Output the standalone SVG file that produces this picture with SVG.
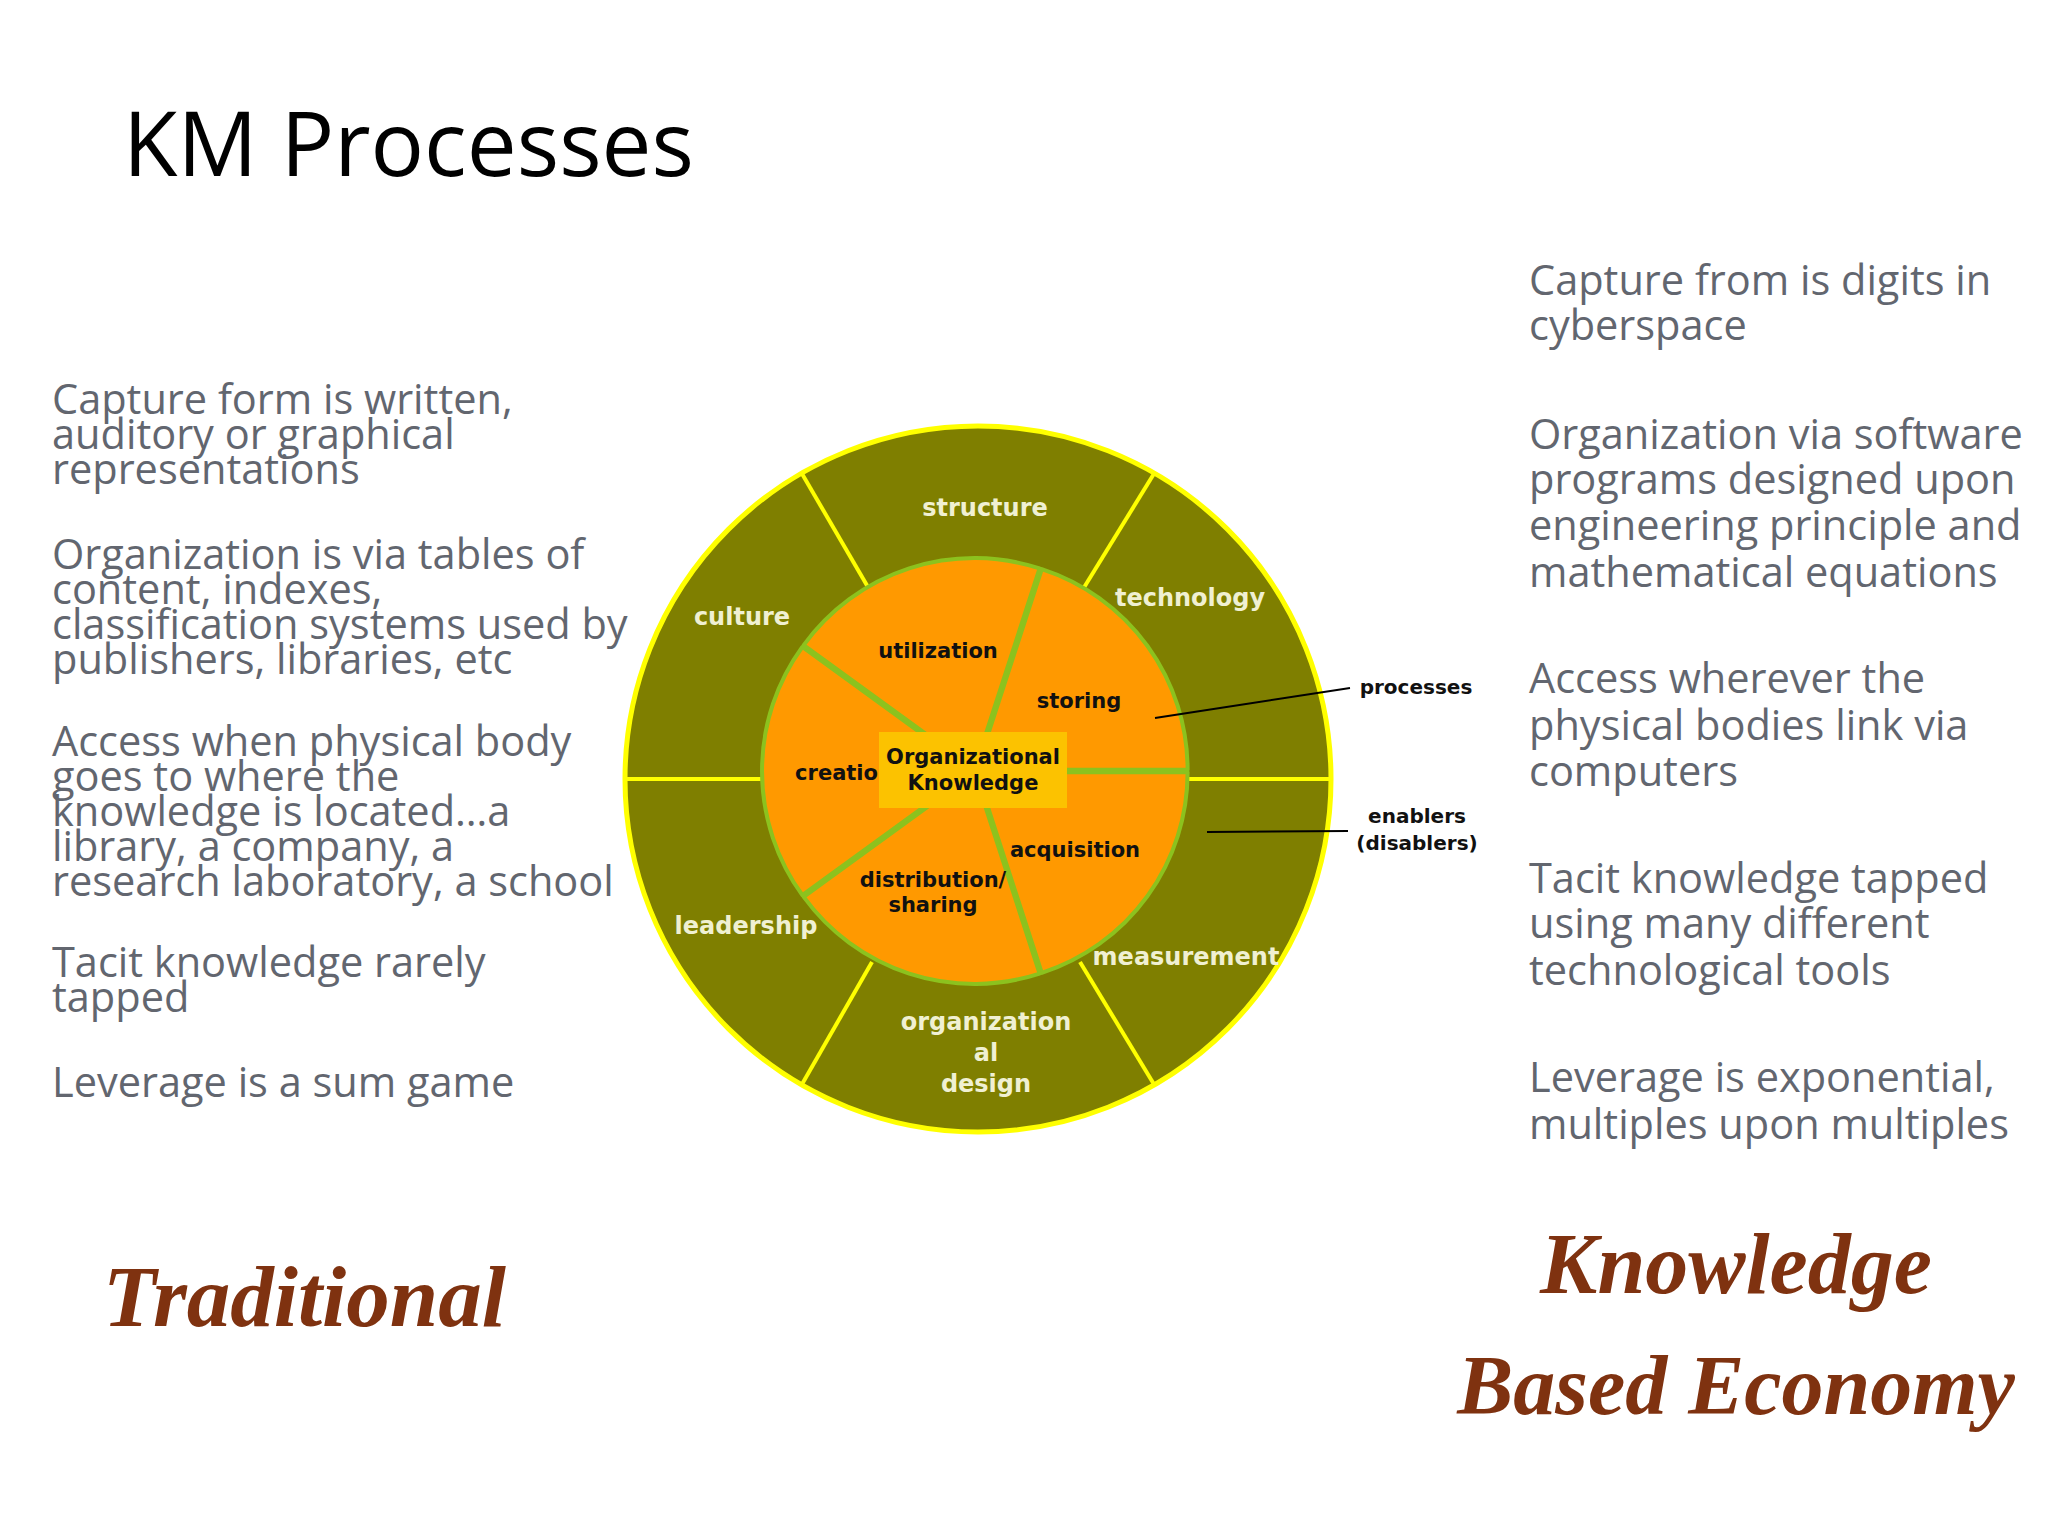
<svg xmlns="http://www.w3.org/2000/svg" width="2048" height="1536" viewBox="0 0 2048 1536">
<style>
.title{font-family:"Open Sans","Liberation Sans",sans-serif;font-size:89px;fill:#000}
.body{font-family:"Open Sans","Liberation Sans",sans-serif;font-size:41.5px;fill:#62666f}
.big{font-family:"Liberation Serif","DejaVu Serif",serif;font-weight:bold;font-style:italic;font-size:85px;fill:#7f3210}
.outer{font-family:"DejaVu Sans",sans-serif;font-weight:bold;font-size:24px;fill:#f0f0d2;text-anchor:middle}
.inner{font-family:"DejaVu Sans",sans-serif;font-weight:bold;font-size:21px;fill:#111;text-anchor:middle}
.innerend{font-family:"DejaVu Sans",sans-serif;font-weight:bold;font-size:21px;fill:#111;text-anchor:end}
.side{font-family:"DejaVu Sans",sans-serif;font-weight:bold;font-size:20px;fill:#111;text-anchor:middle}
.div{stroke:#ffff00;stroke-width:4}
.slice{fill:#ff9900;stroke:#8cc21e;stroke-width:4;stroke-linejoin:round}
.lead{stroke:#000;stroke-width:2;fill:none}
</style>
<rect width="2048" height="1536" fill="#ffffff"/>
<text class="title" x="123" y="176">KM Processes</text>

<g id="left-text" class="body" transform="translate(0,4)">
<text x="52" y="410">Capture form is written,</text>
<text x="52" y="445">auditory or graphical</text>
<text x="52" y="480">representations</text>
<text x="52" y="565">Organization is via tables of</text>
<text x="52" y="600">content, indexes,</text>
<text x="52" y="635">classification systems used by</text>
<text x="52" y="670">publishers, libraries, etc</text>
<text x="52" y="752">Access when physical body</text>
<text x="52" y="787">goes to where the</text>
<text x="52" y="822">knowledge is located…a</text>
<text x="52" y="857">library, a company, a</text>
<text x="52" y="892">research laboratory, a school</text>
<text x="52" y="973">Tacit knowledge rarely</text>
<text x="52" y="1008">tapped</text>
<text x="52" y="1093">Leverage is a sum game</text>
</g>

<g id="right-text" class="body" transform="translate(0,4)">
<text x="1529" y="291">Capture from is digits in</text>
<text x="1529" y="336">cyberspace</text>
<text x="1529" y="445">Organization via software</text>
<text x="1529" y="490">programs designed upon</text>
<text x="1529" y="536">engineering principle and</text>
<text x="1529" y="583">mathematical equations</text>
<text x="1529" y="689">Access wherever the</text>
<text x="1529" y="736">physical bodies link via</text>
<text x="1529" y="782">computers</text>
<text x="1529" y="889">Tacit knowledge tapped</text>
<text x="1529" y="934">using many different</text>
<text x="1529" y="981">technological tools</text>
<text x="1529" y="1088">Leverage is exponential,</text>
<text x="1529" y="1135">multiples upon multiples</text>
</g>

<g id="traditional"><text class="big" x="103" y="1326" style="font-size:87px">Traditional</text></g>
<g id="kbe">
<text class="big" x="1736" y="1293" text-anchor="middle" style="font-size:86px">Knowledge</text>
<text class="big" x="1736" y="1414" text-anchor="middle" style="font-size:84px">Based Economy</text>
</g>

<g id="outer-ring">
<circle cx="978" cy="779" r="353" fill="#7f7f00" stroke="#ffff00" stroke-width="5"/>
<line class="div" x1="624" y1="779" x2="770" y2="779"/>
<line class="div" x1="1180" y1="779" x2="1332" y2="779"/>
<line class="div" x1="801" y1="472" x2="872" y2="594"/>
<line class="div" x1="1155" y1="472" x2="1080" y2="594"/>
<line class="div" x1="801" y1="1086" x2="872" y2="962"/>
<line class="div" x1="1155" y1="1086" x2="1080" y2="962"/>
</g>

<g id="enablers">
<text class="outer" x="985" y="516">structure</text>
<text class="outer" x="1190" y="606">technology</text>
<text class="outer" x="742" y="625">culture</text>
<text class="outer" x="746" y="934">leadership</text>
<text class="outer" x="1186" y="965">measurement</text>
<text class="outer" x="986" y="1030">organization</text>
<text class="outer" x="986" y="1061">al</text>
<text class="outer" x="986" y="1092">design</text>
</g>

<g id="processes-pie">
<circle cx="975" cy="771" r="213" fill="#8cc21e"/>
<path id="storing" class="slice" transform="translate(1.6,-1.2)" d="M975,771 L1040.2,570.3 A211,211 0 0 1 1186,771 Z"/>
<path id="acquisition" class="slice" transform="translate(1.6,1.2)" d="M975,771 L1186,771 A211,211 0 0 1 1040.2,971.7 Z"/>
<path id="distribution" class="slice" transform="translate(-0.6,1.9)" d="M975,771 L1040.2,971.7 A211,211 0 0 1 804.3,895 Z"/>
<path id="creation" class="slice" transform="translate(-2,0)" d="M975,771 L804.3,895 A211,211 0 0 1 804.3,647 Z"/>
<path id="utilization" class="slice" transform="translate(-0.6,-1.9)" d="M975,771 L804.3,647 A211,211 0 0 1 1040.2,570.3 Z"/>
<text class="inner" x="938" y="658">utilization</text>
<text class="inner" x="1079" y="708">storing</text>
<text class="innerend" x="878" y="780">creatio</text>
<text class="inner" x="1075" y="857">acquisition</text>
<text class="inner" x="933" y="887">distribution/</text>
<text class="inner" x="933" y="912">sharing</text>
</g>

<g id="org-knowledge">
<rect x="879" y="732" width="188" height="76" fill="#fcc200"/>
<text class="inner" x="973" y="764">Organizational</text>
<text class="inner" x="973" y="790">Knowledge</text>
</g>

<g id="connectors">
<line class="lead" x1="1155" y1="718" x2="1350" y2="688"/>
<line class="lead" x1="1207" y1="832" x2="1348" y2="831"/>
</g>

<g id="labels">
<text class="side" x="1416" y="694">processes</text>
<text class="side" x="1417" y="823">enablers</text>
<text class="side" x="1417" y="850">(disablers)</text>
</g>
</svg>
